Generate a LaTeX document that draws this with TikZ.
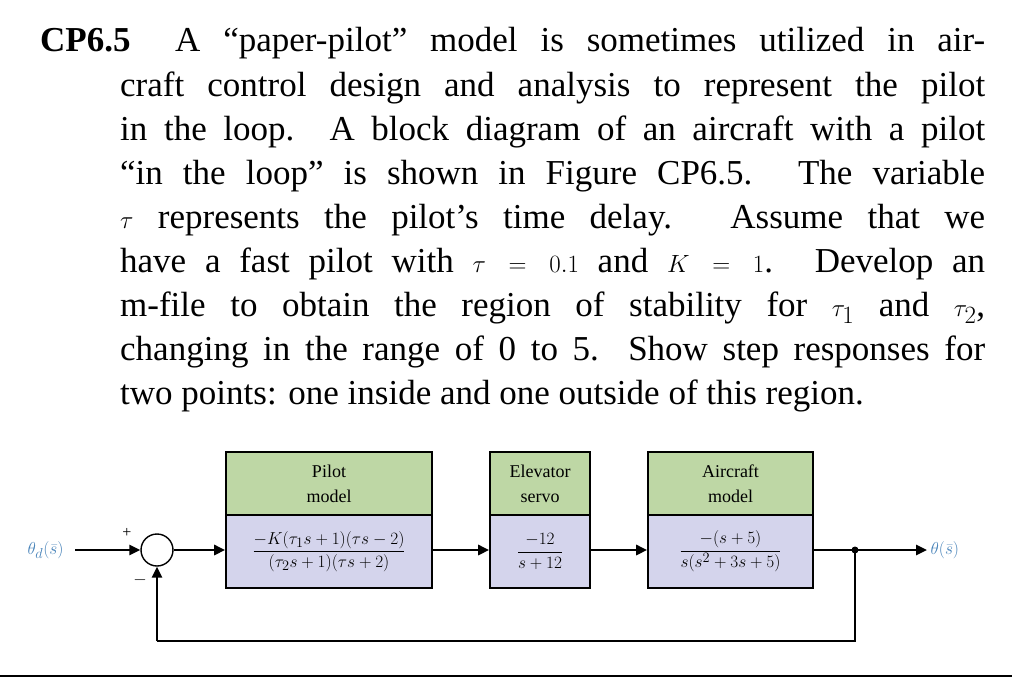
\documentclass[tikz,border=0pt]{standalone}
\usepackage{amsmath}
\usepackage{fontspec}
\setmainfont{Liberation Serif}
\usetikzlibrary{arrows.meta}
\definecolor{gbox}{RGB}{190,215,165}
\definecolor{pbox}{RGB}{212,212,236}
\definecolor{sig}{RGB}{70,130,185}
\begin{document}
\begin{tikzpicture}[x=1pt,y=-1pt,
  txt/.style={anchor=base west,inner sep=0pt,font=\fontsize{35}{44}\selectfont},
  top/.style={draw,line width=1.6pt,fill=gbox,minimum height=63pt,inner sep=0pt,align=center,font=\fontsize{18}{25}\selectfont},
  bot/.style={draw,line width=1.6pt,fill=pbox,minimum height=73pt,inner sep=0pt,font=\fontsize{19}{22}\selectfont},
  wire/.style={line width=2.6pt,-{Triangle[length=11pt,width=10pt]}},
  fb/.style={line width=2.6pt},
  lab/.style={text=sig,font=\fontsize{19}{22}\selectfont}]
\useasboundingbox (0,0) rectangle (1012,677);
\fill[white] (0,0) rectangle (1012,677);
\node[txt] (l0) at (40,52) {\textbf{CP6.5}};
\node[txt] (l1) at (175,52) {\makebox[810pt][s]{A “paper-pilot” model is sometimes utilized in air-}};
\node[txt] (l2) at (120,96) {\makebox[865pt][s]{craft control design and analysis to represent the pilot}};
\node[txt] (l3) at (120,140) {\makebox[865pt][s]{in the loop. A block diagram of an aircraft with a pilot}};
\node[txt] (l4) at (120,184) {\makebox[865pt][s]{“in the loop” is shown in Figure CP6.5. The variable}};
\node[txt] (l5) at (120,228) {\makebox[865pt][s]{$\tau$ represents the pilot’s time delay. Assume that we}};
\node[txt] (l6) at (120,272) {\makebox[865pt][s]{have a fast pilot with $\tau = 0.1$ and $K = 1$. Develop an}};
\node[txt] (l7) at (120,316) {\makebox[865pt][s]{m-file to obtain the region of stability for $\tau_1$ and $\tau_2$,}};
\node[txt] (l8) at (120,360) {\makebox[865pt][s]{changing in the range of 0 to 5. Show step responses for}};
\node[txt] (l9) at (120,404) {two points: one inside and one outside of this region.};
% blocks
\node[top,minimum width=206pt] (pt) at (329,483.5) {Pilot\\model};
\node[bot,minimum width=206pt] (pb) at (329,551.5) {$\dfrac{-K(\tau_1 s+1)(\tau s-2)}{(\tau_2 s+1)(\tau s+2)}$};
\node[top,minimum width=100pt] (et) at (540,483.5) {Elevator\\servo};
\node[bot,minimum width=100pt] (eb) at (540,551.5) {$\dfrac{-12}{s+12}$};
\node[top,minimum width=165pt] (at) at (730.5,483.5) {Aircraft\\model};
\node[bot,minimum width=165pt] (ab) at (730.5,551.5) {$\dfrac{-(s+5)}{s(s^2+3s+5)}$};
\node[draw,circle,line width=1.4pt,minimum size=32pt,inner sep=0pt] (sum) at (157,550) {};
\node[lab,anchor=east] (in) at (67,550) {$\theta_d(\bar s)$};
\node[lab,anchor=west] (out) at (927,550) {$\theta(\bar s)$};
\node (plus) at (127,533) {\fontsize{16}{16}\selectfont +};
\node (minus) at (140,580) {\fontsize{18}{18}\selectfont $-$};
\coordinate (br) at (855,550);
\coordinate (fr) at (855,641);
\coordinate (fl) at (157,641);
\draw[wire] (in.east) ++(8,0) -- (sum.west);
\draw[wire] (sum.east) -- (pb.west|-sum.east);
\draw[wire] (pb.east|-sum) -- (eb.west|-sum);
\draw[wire] (eb.east|-sum) -- (ab.west|-sum);
\draw[wire] (ab.east|-sum) -- (out.west);
\draw[fb] (br) -- (fr) -- (fl);
\draw[wire] (fl) -- (sum.south);
\fill (br) circle (3.5pt);
\draw[line width=1.5pt] (0,676) -- (1012,676);
\end{tikzpicture}
\end{document}
